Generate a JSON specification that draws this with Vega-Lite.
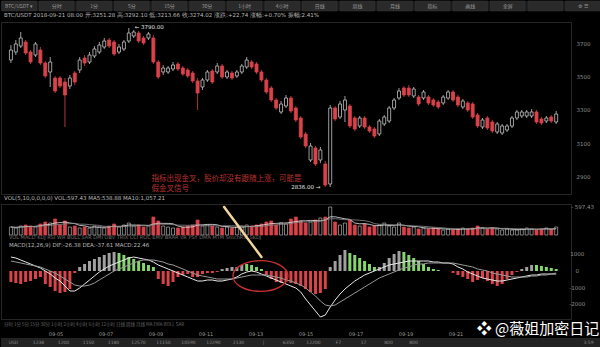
{
"$schema":"https://vega.github.io/schema/vega-lite/v6.json",
"background":"#000000",
"padding":0,
"spacing":0,
"config":{"view":{"stroke":null},"axis":{"grid":false,"domain":false,"ticks":false,"labelColor":"#8f8f8f","labelFontSize":5.5,"labelFont":"DejaVu Sans","labelPadding":5,"labelOverlap":false,"title":null},"title":{"anchor":"start","fontSize":5.5,"font":"DejaVu Sans","fontWeight":"normal","color":"#bbbbbb","dx":3},"text":{"font":"Noto Sans CJK SC"}},
"datasets":{
"tb":[{"n":1,"t":"BTC/USDT ▾"},{"n":2,"t":"分时"},{"n":3,"t":"1分"},{"n":4,"t":"5分"},{"n":5,"t":"15分"},{"n":6,"t":"30分"},{"n":7,"t":"1小时"},{"n":8,"t":"4小时"},{"n":9,"t":"日线"},{"n":10,"t":"周线"},{"n":11,"t":"月线"},{"n":12,"t":"指标"},{"n":13,"t":"画线"},{"n":14,"t":"全屏"},{"n":15,"t":""},{"n":16,"t":"⚙ ☰"}],
"bb":[{"n":1,"t":"USD"},{"n":2,"t":"1238"},{"n":3,"t":"1200"},{"n":4,"t":"1150"},{"n":5,"t":"1180"},{"n":6,"t":"12570"},{"n":7,"t":"11150"},{"n":8,"t":"10590"},{"n":9,"t":"12290"},{"n":10,"t":"2130"},{"n":11,"t":"|"},{"n":12,"t":"6350"},{"n":13,"t":"12200"},{"n":14,"t":"F7"},{"n":15,"t":"17"},{"n":16,"t":"800"},{"n":17,"t":"800"},{"n":18,"t":""},{"n":19,"t":""},{"n":20,"t":""},{"n":21,"t":""},{"n":22,"t":""},{"n":23,"t":""},{"n":24,"t":"3:59"}],
"foot":[{"row":"tabs","i":-0.4,"t":"分时   1分   5分   15分   30分   1小时   2小时   4小时   6小时   12小时   日线   周线   月线   MA   EMA   BOLL   SAR","kind":"tab"},{"row":"dates","i":10,"t":"09-05","kind":"date"},{"row":"dates","i":20,"t":"09-07","kind":"date"},{"row":"dates","i":30,"t":"09-09","kind":"date"},{"row":"dates","i":40,"t":"09-11","kind":"date"},{"row":"dates","i":50,"t":"09-13","kind":"date"},{"row":"dates","i":60,"t":"09-15","kind":"date"},{"row":"dates","i":70,"t":"09-17","kind":"date"},{"row":"dates","i":80,"t":"09-19","kind":"date"},{"row":"dates","i":90,"t":"09-21","kind":"date"},{"row":"wm","i":106.4,"t":"❖ @薇姐加密日记","kind":"wm"}],
"k":[
{"i":0,"o":3598,"h":3688,"l":3580,"c":3658,"v":8,"m5":8,"m10":8,"dif":840,"dea":600,"hist":-660,"hc":"neg"},
{"i":1,"o":3646,"h":3718,"l":3628,"c":3694,"v":7,"m5":7.5,"m10":7.8,"dif":780,"dea":540,"hist":-720,"hc":"neg"},
{"i":2,"o":3682,"h":3766,"l":3670,"c":3730,"v":9,"m5":8,"m10":8,"dif":660,"dea":480,"hist":-780,"hc":"neg"},
{"i":3,"o":3706,"h":3718,"l":3628,"c":3640,"v":10,"m5":8.5,"m10":8.2,"dif":540,"dea":420,"hist":-660,"hc":"neg"},
{"i":4,"o":3646,"h":3658,"l":3574,"c":3586,"v":9,"m5":8.6,"m10":8.4,"dif":420,"dea":360,"hist":-600,"hc":"neg"},
{"i":5,"o":3628,"h":3706,"l":3616,"c":3694,"v":8,"m5":8.6,"m10":8.6,"dif":300,"dea":300,"hist":-480,"hc":"neg"},
{"i":6,"o":3658,"h":3676,"l":3568,"c":3580,"v":11,"m5":9.4,"m10":9,"dif":180,"dea":240,"hist":-360,"hc":"neg"},
{"i":7,"o":3580,"h":3592,"l":3490,"c":3502,"v":13,"m5":10.2,"m10":9.2,"dif":0,"dea":120,"hist":-780,"hc":"neg"},
{"i":8,"o":3526,"h":3616,"l":3436,"c":3586,"v":12,"m5":10.6,"m10":9.6,"dif":-180,"dea":0,"hist":-960,"hc":"neg"},
{"i":9,"o":3490,"h":3502,"l":3400,"c":3412,"v":16,"m5":12,"m10":10.3,"dif":-420,"dea":-120,"hist":-1200,"hc":"neg"},
{"i":10,"o":3490,"h":3502,"l":3430,"c":3442,"v":10,"m5":12.4,"m10":10.5,"dif":-600,"dea":-300,"hist":-1320,"hc":"neg"},
{"i":11,"o":3466,"h":3490,"l":3196,"c":3388,"v":14,"m5":13,"m10":11.2,"dif":-900,"dea":-480,"hist":-1260,"hc":"neg"},
{"i":12,"o":3442,"h":3508,"l":3424,"c":3490,"v":8,"m5":12,"m10":11.3,"dif":-1200,"dea":-660,"hist":-1080,"hc":"neg"},
{"i":13,"o":3520,"h":3532,"l":3448,"c":3466,"v":9,"m5":11.4,"m10":11.7,"dif":-1200,"dea":-840,"hist":-120,"hc":"neg"},
{"i":14,"o":3538,"h":3616,"l":3520,"c":3598,"v":7,"m5":9.6,"m10":10.8,"dif":-1020,"dea":-900,"hist":240,"hc":"up"},
{"i":15,"o":3610,"h":3628,"l":3562,"c":3580,"v":8,"m5":9.2,"m10":10.8,"dif":-780,"dea":-900,"hist":420,"hc":"up"},
{"i":16,"o":3586,"h":3646,"l":3574,"c":3628,"v":7,"m5":7.8,"m10":10.4,"dif":-540,"dea":-840,"hist":600,"hc":"up"},
{"i":17,"o":3622,"h":3682,"l":3610,"c":3664,"v":9,"m5":8,"m10":10,"dif":-300,"dea":-720,"hist":720,"hc":"up"},
{"i":18,"o":3646,"h":3706,"l":3634,"c":3688,"v":8,"m5":7.8,"m10":9.6,"dif":-60,"dea":-540,"hist":840,"hc":"up"},
{"i":19,"o":3676,"h":3730,"l":3664,"c":3712,"v":7,"m5":7.8,"m10":8.7,"dif":120,"dea":-360,"hist":960,"hc":"up"},
{"i":20,"o":3718,"h":3730,"l":3670,"c":3682,"v":9,"m5":8,"m10":8.6,"dif":300,"dea":-180,"hist":1080,"hc":"up"},
{"i":21,"o":3706,"h":3718,"l":3622,"c":3634,"v":11,"m5":8.8,"m10":8.3,"dif":420,"dea":0,"hist":1140,"hc":"up"},
{"i":22,"o":3646,"h":3694,"l":3634,"c":3676,"v":8,"m5":8.6,"m10":8.3,"dif":540,"dea":120,"hist":1080,"hc":"dn"},
{"i":23,"o":3664,"h":3718,"l":3652,"c":3706,"v":10,"m5":9,"m10":8.4,"dif":660,"dea":240,"hist":960,"hc":"dn"},
{"i":24,"o":3712,"h":3790,"l":3700,"c":3760,"v":12,"m5":10,"m10":8.9,"dif":780,"dea":360,"hist":840,"hc":"dn"},
{"i":25,"o":3742,"h":3778,"l":3730,"c":3766,"v":9,"m5":10,"m10":9,"dif":840,"dea":480,"hist":720,"hc":"dn"},
{"i":26,"o":3760,"h":3772,"l":3700,"c":3712,"v":10,"m5":9.8,"m10":9.3,"dif":780,"dea":600,"hist":600,"hc":"dn"},
{"i":27,"o":3730,"h":3742,"l":3688,"c":3700,"v":8,"m5":9.8,"m10":9.4,"dif":720,"dea":660,"hist":480,"hc":"dn"},
{"i":28,"o":3730,"h":3766,"l":3718,"c":3754,"v":9,"m5":9.6,"m10":9.3,"dif":660,"dea":660,"hist":360,"hc":"dn"},
{"i":29,"o":3730,"h":3748,"l":3574,"c":3586,"v":18,"m5":10.8,"m10":10.4,"dif":540,"dea":660,"hist":240,"hc":"dn"},
{"i":30,"o":3586,"h":3598,"l":3484,"c":3496,"v":14,"m5":11.8,"m10":10.9,"dif":360,"dea":600,"hist":-480,"hc":"neg"},
{"i":31,"o":3526,"h":3568,"l":3508,"c":3550,"v":9,"m5":11.6,"m10":10.7,"dif":240,"dea":540,"hist":-780,"hc":"neg"},
{"i":32,"o":3526,"h":3562,"l":3514,"c":3550,"v":8,"m5":11.6,"m10":10.7,"dif":120,"dea":420,"hist":-900,"hc":"neg"},
{"i":33,"o":3544,"h":3586,"l":3532,"c":3568,"v":7,"m5":11.2,"m10":10.4,"dif":0,"dea":360,"hist":-660,"hc":"neg"},
{"i":34,"o":3574,"h":3586,"l":3532,"c":3544,"v":7,"m5":9,"m10":9.9,"dif":-120,"dea":240,"hist":-360,"hc":"neg"},
{"i":35,"o":3550,"h":3562,"l":3502,"c":3514,"v":8,"m5":7.8,"m10":9.8,"dif":-240,"dea":120,"hist":-240,"hc":"neg"},
{"i":36,"o":3538,"h":3550,"l":3490,"c":3502,"v":9,"m5":7.8,"m10":9.7,"dif":-360,"dea":0,"hist":-180,"hc":"neg"},
{"i":37,"o":3520,"h":3532,"l":3460,"c":3472,"v":10,"m5":8.2,"m10":9.9,"dif":-480,"dea":-120,"hist":-360,"hc":"neg"},
{"i":38,"o":3472,"h":3490,"l":3298,"c":3400,"v":15,"m5":9.8,"m10":10.5,"dif":-600,"dea":-240,"hist":-360,"hc":"neg"},
{"i":39,"o":3436,"h":3490,"l":3418,"c":3478,"v":9,"m5":10.2,"m10":9.6,"dif":-600,"dea":-300,"hist":-180,"hc":"neg"},
{"i":40,"o":3478,"h":3538,"l":3466,"c":3526,"v":10,"m5":10.6,"m10":9.2,"dif":-540,"dea":-360,"hist":-120,"hc":"neg"},
{"i":41,"o":3532,"h":3544,"l":3454,"c":3466,"v":9,"m5":10.6,"m10":9.2,"dif":-540,"dea":-420,"hist":-120,"hc":"neg"},
{"i":42,"o":3526,"h":3580,"l":3514,"c":3562,"v":8,"m5":10.2,"m10":9.2,"dif":-600,"dea":-480,"hist":-60,"hc":"neg"},
{"i":43,"o":3562,"h":3574,"l":3484,"c":3496,"v":7,"m5":8.6,"m10":9.2,"dif":-600,"dea":-480,"hist":120,"hc":"up"},
{"i":44,"o":3496,"h":3538,"l":3484,"c":3526,"v":8,"m5":8.4,"m10":9.3,"dif":-540,"dea":-480,"hist":180,"hc":"up"},
{"i":45,"o":3520,"h":3532,"l":3478,"c":3490,"v":7,"m5":7.8,"m10":9.2,"dif":-480,"dea":-480,"hist":240,"hc":"up"},
{"i":46,"o":3502,"h":3538,"l":3490,"c":3526,"v":8,"m5":7.6,"m10":9.1,"dif":-360,"dea":-420,"hist":240,"hc":"up"},
{"i":47,"o":3526,"h":3574,"l":3514,"c":3562,"v":9,"m5":7.8,"m10":9,"dif":-180,"dea":-360,"hist":360,"hc":"up"},
{"i":48,"o":3556,"h":3616,"l":3544,"c":3598,"v":10,"m5":8.4,"m10":8.5,"dif":-60,"dea":-300,"hist":420,"hc":"dn"},
{"i":49,"o":3586,"h":3598,"l":3544,"c":3556,"v":9,"m5":8.6,"m10":8.5,"dif":0,"dea":-240,"hist":360,"hc":"dn"},
{"i":50,"o":3574,"h":3586,"l":3514,"c":3526,"v":10,"m5":9.2,"m10":8.5,"dif":-60,"dea":-240,"hist":240,"hc":"dn"},
{"i":51,"o":3526,"h":3538,"l":3466,"c":3478,"v":11,"m5":9.8,"m10":8.7,"dif":-180,"dea":-240,"hist":120,"hc":"dn"},
{"i":52,"o":3478,"h":3490,"l":3394,"c":3406,"v":13,"m5":10.6,"m10":9.2,"dif":-300,"dea":-240,"hist":-240,"hc":"neg"},
{"i":53,"o":3430,"h":3442,"l":3346,"c":3358,"v":14,"m5":11.4,"m10":9.9,"dif":-420,"dea":-300,"hist":-480,"hc":"neg"},
{"i":54,"o":3358,"h":3370,"l":3298,"c":3310,"v":10,"m5":11.6,"m10":10.1,"dif":-540,"dea":-360,"hist":-660,"hc":"neg"},
{"i":55,"o":3286,"h":3352,"l":3274,"c":3334,"v":12,"m5":12,"m10":10.6,"dif":-660,"dea":-420,"hist":-720,"hc":"neg"},
{"i":56,"o":3322,"h":3388,"l":3310,"c":3370,"v":11,"m5":12,"m10":10.9,"dif":-780,"dea":-540,"hist":-660,"hc":"neg"},
{"i":57,"o":3370,"h":3382,"l":3280,"c":3292,"v":16,"m5":12.6,"m10":11.6,"dif":-900,"dea":-600,"hist":-720,"hc":"neg"},
{"i":58,"o":3310,"h":3322,"l":3226,"c":3238,"v":18,"m5":13.4,"m10":12.4,"dif":-1020,"dea":-720,"hist":-780,"hc":"neg"},
{"i":59,"o":3250,"h":3262,"l":3124,"c":3136,"v":14,"m5":14.2,"m10":12.9,"dif":-1260,"dea":-840,"hist":-900,"hc":"neg"},
{"i":60,"o":3154,"h":3166,"l":3070,"c":3082,"v":12,"m5":14.2,"m10":13.1,"dif":-1680,"dea":-1020,"hist":-1080,"hc":"neg"},
{"i":61,"o":2998,"h":3100,"l":2986,"c":3082,"v":13,"m5":14.6,"m10":13.3,"dif":-2040,"dea":-1260,"hist":-1260,"hc":"neg"},
{"i":62,"o":3070,"h":3082,"l":2962,"c":2974,"v":15,"m5":14.4,"m10":13.5,"dif":-2400,"dea":-1500,"hist":-1380,"hc":"neg"},
{"i":63,"o":2998,"h":3076,"l":2980,"c":3058,"v":17,"m5":14.2,"m10":13.8,"dif":-2760,"dea":-1800,"hist":-1320,"hc":"neg"},
{"i":64,"o":2974,"h":2992,"l":2836,"c":2848,"v":18,"m5":15,"m10":15,"dif":-2640,"dea":-2040,"hist":-1080,"hc":"neg"},
{"i":65,"o":2854,"h":3328,"l":2836,"c":3310,"v":28,"m5":18.2,"m10":16.2,"dif":-2160,"dea":-2100,"hist":240,"hc":"up"},
{"i":66,"o":3310,"h":3322,"l":3232,"c":3244,"v":13,"m5":18.2,"m10":16.3,"dif":-1740,"dea":-2040,"hist":600,"hc":"up"},
{"i":67,"o":3256,"h":3352,"l":3244,"c":3334,"v":10,"m5":17.2,"m10":15.8,"dif":-1380,"dea":-1860,"hist":960,"hc":"up"},
{"i":68,"o":3298,"h":3382,"l":3226,"c":3358,"v":12,"m5":16.2,"m10":15.3,"dif":-1080,"dea":-1680,"hist":1260,"hc":"up"},
{"i":69,"o":3322,"h":3334,"l":3190,"c":3202,"v":15,"m5":15.6,"m10":15.2,"dif":-840,"dea":-1500,"hist":1080,"hc":"dn"},
{"i":70,"o":3250,"h":3262,"l":3172,"c":3184,"v":10,"m5":12,"m10":15.1,"dif":-600,"dea":-1320,"hist":960,"hc":"dn"},
{"i":71,"o":3202,"h":3262,"l":3190,"c":3250,"v":9,"m5":11.2,"m10":14.7,"dif":-420,"dea":-1140,"hist":780,"hc":"dn"},
{"i":72,"o":3250,"h":3262,"l":3184,"c":3196,"v":11,"m5":11.4,"m10":14.3,"dif":-240,"dea":-960,"hist":600,"hc":"dn"},
{"i":73,"o":3196,"h":3208,"l":3160,"c":3172,"v":8,"m5":10.6,"m10":13.4,"dif":-120,"dea":-780,"hist":420,"hc":"dn"},
{"i":74,"o":3184,"h":3196,"l":3130,"c":3142,"v":9,"m5":9.4,"m10":11.4,"dif":0,"dea":-600,"hist":240,"hc":"dn"},
{"i":75,"o":3154,"h":3244,"l":3142,"c":3232,"v":10,"m5":9.4,"m10":10.7,"dif":120,"dea":-420,"hist":240,"hc":"up"},
{"i":76,"o":3214,"h":3268,"l":3202,"c":3256,"v":12,"m5":10,"m10":10.6,"dif":240,"dea":-300,"hist":480,"hc":"up"},
{"i":77,"o":3232,"h":3322,"l":3220,"c":3310,"v":9,"m5":9.6,"m10":10.5,"dif":360,"dea":-180,"hist":780,"hc":"up"},
{"i":78,"o":3310,"h":3370,"l":3298,"c":3358,"v":8,"m5":9.6,"m10":10.1,"dif":420,"dea":-60,"hist":1020,"hc":"up"},
{"i":79,"o":3370,"h":3430,"l":3358,"c":3412,"v":12,"m5":10.2,"m10":9.8,"dif":480,"dea":60,"hist":1200,"hc":"up"},
{"i":80,"o":3430,"h":3442,"l":3376,"c":3388,"v":8,"m5":9.8,"m10":9.6,"dif":540,"dea":180,"hist":1140,"hc":"dn"},
{"i":81,"o":3430,"h":3448,"l":3376,"c":3388,"v":7,"m5":8.8,"m10":9.4,"dif":600,"dea":240,"hist":960,"hc":"dn"},
{"i":82,"o":3382,"h":3436,"l":3370,"c":3424,"v":8,"m5":8.6,"m10":9.1,"dif":600,"dea":360,"hist":780,"hc":"dn"},
{"i":83,"o":3376,"h":3388,"l":3322,"c":3334,"v":6,"m5":8.2,"m10":8.9,"dif":600,"dea":420,"hist":600,"hc":"dn"},
{"i":84,"o":3370,"h":3418,"l":3358,"c":3406,"v":7,"m5":7.2,"m10":8.7,"dif":600,"dea":420,"hist":420,"hc":"dn"},
{"i":85,"o":3376,"h":3388,"l":3328,"c":3340,"v":6,"m5":6.8,"m10":8.3,"dif":600,"dea":480,"hist":240,"hc":"dn"},
{"i":86,"o":3358,"h":3370,"l":3316,"c":3328,"v":7,"m5":6.8,"m10":7.8,"dif":540,"dea":480,"hist":120,"hc":"dn"},
{"i":87,"o":3346,"h":3358,"l":3304,"c":3316,"v":6,"m5":6.4,"m10":7.5,"dif":540,"dea":480,"hist":60,"hc":"dn"},
{"i":88,"o":3340,"h":3388,"l":3328,"c":3376,"v":5,"m5":6.2,"m10":7.2,"dif":480,"dea":480,"hist":0,"hc":"dn"},
{"i":89,"o":3370,"h":3418,"l":3358,"c":3406,"v":6,"m5":6,"m10":6.6,"dif":480,"dea":480,"hist":0,"hc":"dn"},
{"i":90,"o":3406,"h":3418,"l":3346,"c":3358,"v":5,"m5":5.8,"m10":6.3,"dif":420,"dea":480,"hist":-120,"hc":"neg"},
{"i":91,"o":3376,"h":3388,"l":3316,"c":3328,"v":6,"m5":5.6,"m10":6.2,"dif":240,"dea":420,"hist":-240,"hc":"neg"},
{"i":92,"o":3316,"h":3364,"l":3304,"c":3352,"v":7,"m5":5.8,"m10":6.1,"dif":120,"dea":360,"hist":-360,"hc":"neg"},
{"i":93,"o":3340,"h":3352,"l":3286,"c":3298,"v":6,"m5":6,"m10":6.1,"dif":-60,"dea":300,"hist":-480,"hc":"neg"},
{"i":94,"o":3334,"h":3346,"l":3244,"c":3256,"v":7,"m5":6.2,"m10":6.1,"dif":-180,"dea":240,"hist":-660,"hc":"neg"},
{"i":95,"o":3268,"h":3280,"l":3190,"c":3202,"v":9,"m5":7,"m10":6.4,"dif":-300,"dea":120,"hist":-540,"hc":"neg"},
{"i":96,"o":3196,"h":3250,"l":3184,"c":3238,"v":7,"m5":7.2,"m10":6.4,"dif":-420,"dea":60,"hist":-420,"hc":"neg"},
{"i":97,"o":3250,"h":3262,"l":3178,"c":3190,"v":6,"m5":7,"m10":6.4,"dif":-480,"dea":0,"hist":-600,"hc":"neg"},
{"i":98,"o":3226,"h":3238,"l":3160,"c":3172,"v":7,"m5":7.2,"m10":6.6,"dif":-540,"dea":-120,"hist":-780,"hc":"neg"},
{"i":99,"o":3166,"h":3226,"l":3154,"c":3214,"v":6,"m5":7,"m10":6.6,"dif":-600,"dea":-180,"hist":-900,"hc":"neg"},
{"i":100,"o":3160,"h":3214,"l":3148,"c":3202,"v":5,"m5":6.2,"m10":6.6,"dif":-600,"dea":-240,"hist":-780,"hc":"neg"},
{"i":101,"o":3178,"h":3214,"l":3166,"c":3202,"v":6,"m5":6.2,"m10":6.7,"dif":-540,"dea":-300,"hist":-480,"hc":"neg"},
{"i":102,"o":3202,"h":3262,"l":3190,"c":3250,"v":5,"m5":5.8,"m10":6.4,"dif":-480,"dea":-360,"hist":-240,"hc":"neg"},
{"i":103,"o":3250,"h":3298,"l":3238,"c":3286,"v":5,"m5":5.4,"m10":6.3,"dif":-420,"dea":-360,"hist":-60,"hc":"neg"},
{"i":104,"o":3262,"h":3298,"l":3250,"c":3286,"v":6,"m5":5.4,"m10":6.2,"dif":-360,"dea":-360,"hist":120,"hc":"up"},
{"i":105,"o":3262,"h":3298,"l":3250,"c":3286,"v":7,"m5":5.8,"m10":6,"dif":-300,"dea":-360,"hist":240,"hc":"up"},
{"i":106,"o":3262,"h":3304,"l":3250,"c":3286,"v":6,"m5":5.8,"m10":6,"dif":-240,"dea":-300,"hist":360,"hc":"up"},
{"i":107,"o":3286,"h":3298,"l":3214,"c":3226,"v":5,"m5":5.8,"m10":5.8,"dif":-240,"dea":-300,"hist":360,"hc":"dn"},
{"i":108,"o":3244,"h":3256,"l":3208,"c":3220,"v":6,"m5":6,"m10":5.7,"dif":-180,"dea":-240,"hist":300,"hc":"dn"},
{"i":109,"o":3232,"h":3262,"l":3220,"c":3250,"v":7,"m5":6.2,"m10":5.8,"dif":-180,"dea":-240,"hist":240,"hc":"dn"},
{"i":110,"o":3256,"h":3268,"l":3220,"c":3232,"v":6,"m5":6,"m10":5.9,"dif":-180,"dea":-180,"hist":180,"hc":"dn"},
{"i":111,"o":3226,"h":3292,"l":3214,"c":3274,"v":8,"m5":6.4,"m10":6.1,"dif":-180,"dea":-120,"hist":120,"hc":"dn"}
]},
"vconcat":[
{"width":600,"height":10,"view":{"fill":"#1a1a1a","stroke":null},"data":{"name":"tb"},
 "encoding":{"x":{"field":"n","type":"ordinal","sort":null,"axis":null,"scale":{"paddingInner":0.08,"paddingOuter":0.02}}},
 "layer":[
  {"mark":{"type":"bar","fill":"#2a2a2a","stroke":"#3a3a3a","strokeWidth":0.5},"encoding":{}},
  {"mark":{"type":"text","fontSize":5,"color":"#9a9a9a"},"encoding":{"text":{"field":"t"}}}
 ]},
{"width":570,"height":172,"view":{"stroke":"#262626"},
 "title":{"text":"BTC/USDT  2018-09-21 08:00   开:3251.28   高:3292.10   低:3213.66   收:3274.02   涨跌:+22.74   涨幅:+0.70%   振幅:2.41%","offset":4},
 "data":{"name":"k"},
 "encoding":{"x":{"field":"i","type":"quantitative","scale":{"domain":[-1,113],"nice":false,"zero":false},"axis":null}},
 "layer":[
  {"mark":{"type":"rule","strokeWidth":0.8},"encoding":{"y":{"field":"l","type":"quantitative","scale":{"domain":[2794,3826],"nice":false,"zero":false},"axis":{"orient":"right","values":[2900,3000,3100,3200,3300,3400,3500,3600,3700],"format":"d","labelOverlap":false}},"y2":{"field":"h"},"color":{"condition":{"test":"datum.c >= datum.o","value":"#c4c4c4"},"value":"#d9434a"}}},
  {"mark":{"type":"bar","size":3,"strokeWidth":0.8},"encoding":{"y":{"field":"o","type":"quantitative"},"y2":{"field":"c"},"fill":{"condition":{"test":"datum.c >= datum.o","value":"#000000"},"value":"#d9434a"},"stroke":{"condition":{"test":"datum.c >= datum.o","value":"#c4c4c4"},"value":"#d9434a"}}},
  {"data":{"values":[{"i":25.2,"p":3796,"t":"← 3790.00"}]},"mark":{"type":"text","align":"left","baseline":"middle","fontSize":5.5,"color":"#e0e0e0","font":"DejaVu Sans"},"encoding":{"y":{"field":"p","type":"quantitative"},"text":{"field":"t"}}},
  {"data":{"values":[{"i":63,"p":2836,"t":"2836.00 →"}]},"mark":{"type":"text","align":"right","baseline":"middle","fontSize":5.5,"color":"#e0e0e0","font":"DejaVu Sans"},"encoding":{"y":{"field":"p","type":"quantitative"},"text":{"field":"t"}}},
  {"data":{"values":[{"i":28.6,"p":2908,"t":"指标出现金叉，股价却没有跟随上涨，可能是\n假金叉信号"}]},"mark":{"type":"text","align":"left","baseline":"top","fontSize":7.5,"lineHeight":10,"lineBreak":"\n","color":"#b8312f"},"encoding":{"y":{"field":"p","type":"quantitative"},"text":{"field":"t"}}}
 ]},
{"width":570,"height":115,"view":{"stroke":"#262626"},
 "title":{"text":"VOL(5,10,0,0,0,0)    VOL:597.43    MA5:538.88    MA10:1,057.21","offset":3},
 "data":{"name":"k"},
 "encoding":{"x":{"field":"i","type":"quantitative","scale":{"domain":[-1,113],"nice":false,"zero":false},"axis":null}},
 "layer":[
  {"layer":[
   {"mark":{"type":"bar","size":3,"strokeWidth":0.7},"encoding":{"y":{"field":"v","type":"quantitative","scale":{"domain":[-84,31],"nice":false,"zero":false},"axis":null},"y2":{"datum":0},"fill":{"condition":{"test":"datum.c >= datum.o","value":"#000000"},"value":"#d9434a"},"stroke":{"condition":{"test":"datum.c >= datum.o","value":"#b0b0b0"},"value":"#d9434a"}}},
   {"mark":{"type":"line","strokeWidth":0.8,"color":"#e6e6e6"},"encoding":{"y":{"field":"m5","type":"quantitative","axis":null}}},
   {"mark":{"type":"line","strokeWidth":0.8,"color":"#8a8a8a"},"encoding":{"y":{"field":"m10","type":"quantitative","axis":null}}},
   {"data":{"values":[{"i":114,"v":28,"t":"- 597.43"}]},"mark":{"type":"text","align":"left","baseline":"middle","fontSize":5.5,"color":"#8f8f8f","font":"DejaVu Sans"},"encoding":{"y":{"field":"v","type":"quantitative","axis":null},"text":{"field":"t"}}}
  ]},
  {"layer":[
   {"mark":{"type":"bar","size":3},"encoding":{"y":{"field":"hist","type":"quantitative","scale":{"domain":[-2880,4020],"nice":false,"zero":false},"axis":null},"y2":{"datum":0},"color":{"field":"hc","type":"nominal","scale":{"domain":["up","dn","neg"],"range":["#a0a0a0","#86d46f","#d9434a"]},"legend":null}}},
   {"mark":{"type":"line","strokeWidth":1,"color":"#e8e8e8"},"encoding":{"y":{"field":"dif","type":"quantitative","axis":null}}},
   {"mark":{"type":"line","strokeWidth":1,"color":"#9a9a9a"},"encoding":{"y":{"field":"dea","type":"quantitative","axis":null}}},
   {"data":{"values":[{"i":115.3,"hist":1000,"t":"1000"},{"i":115.3,"hist":0,"t":"0"},{"i":115.3,"hist":-1000,"t":"-1000"},{"i":115.3,"hist":-2000,"t":"-2000"}]},"mark":{"type":"text","align":"center","baseline":"middle","fontSize":5.5,"color":"#8f8f8f","font":"DejaVu Sans"},"encoding":{"y":{"field":"hist","type":"quantitative","axis":null},"text":{"field":"t"}}},
   {"data":{"values":[{"i":-0.4,"hist":2040,"t":"VOL   MACD   KDJ   RSI   WR   BOLL   SAR   DMI   OBV   TRIX   CCI   ROC   EMV   BRAR   VR   PSY   DMA   MTM   StochRSI   SKDJ"}]},"mark":{"type":"text","align":"left","baseline":"middle","fontSize":5,"color":"#6f6f6f","font":"DejaVu Sans"},"encoding":{"y":{"field":"hist","type":"quantitative","axis":null},"text":{"field":"t"}}},
   {"data":{"values":[{"i":-0.4,"hist":1560,"t":"MACD(12,26,9)    DIF:-26.38    DEA:-37.61    MACD:22.46"}]},"mark":{"type":"text","align":"left","baseline":"middle","fontSize":5.5,"color":"#bbbbbb","font":"DejaVu Sans"},"encoding":{"y":{"field":"hist","type":"quantitative","axis":null},"text":{"field":"t"}}},
   {"data":{"values":[{"i":50.8,"hist":-300}]},"mark":{"type":"point","shape":"M -1 0 A 1 0.56 0 1 0 1 0 A 1 0.56 0 1 0 -1 0 Z","size":3025,"filled":false,"opacity":1,"stroke":"#c8322f","strokeWidth":1.3},"encoding":{"y":{"field":"hist","type":"quantitative","axis":null}}},
   {"data":{"values":[{"xa":43.4,"ya":3840,"xb":51,"yb":840}]},"mark":{"type":"rule","color":"#f0d49c","strokeWidth":2.5,"strokeCap":"round"},"encoding":{"x":{"field":"xa","type":"quantitative"},"y":{"field":"ya","type":"quantitative","axis":null},"x2":{"field":"xb"},"y2":{"field":"yb"}}}
  ]}
 ],
 "resolve":{"scale":{"y":"independent"}}},
{"width":570,"height":18,"data":{"name":"foot"},
 "encoding":{"x":{"field":"i","type":"quantitative","scale":{"domain":[-1,113],"nice":false,"zero":false},"axis":null},"y":{"field":"row","type":"ordinal","scale":{"type":"point","domain":["tabs","wm","dates"],"padding":1},"axis":null},"text":{"field":"t"}},
 "layer":[
  {"transform":[{"filter":"datum.kind == 'tab'"}],"mark":{"type":"text","align":"left","baseline":"middle","fontSize":4.5,"color":"#666666"}},
  {"transform":[{"filter":"datum.kind == 'date'"}],"mark":{"type":"text","baseline":"middle","fontSize":5,"color":"#9a9a9a","font":"DejaVu Sans"}},
  {"transform":[{"filter":"datum.kind == 'wm'"}],"mark":{"type":"text","baseline":"middle","fontSize":15,"color":"#ffffff"}}
 ]},
{"width":600,"height":9,"view":{"fill":"#232323","stroke":null},"data":{"name":"bb"},
 "mark":{"type":"text","fontSize":4.5,"color":"#8a8a8a","font":"DejaVu Sans"},
 "encoding":{"x":{"field":"n","type":"ordinal","sort":null,"axis":null},"text":{"field":"t"}}}
]
}
